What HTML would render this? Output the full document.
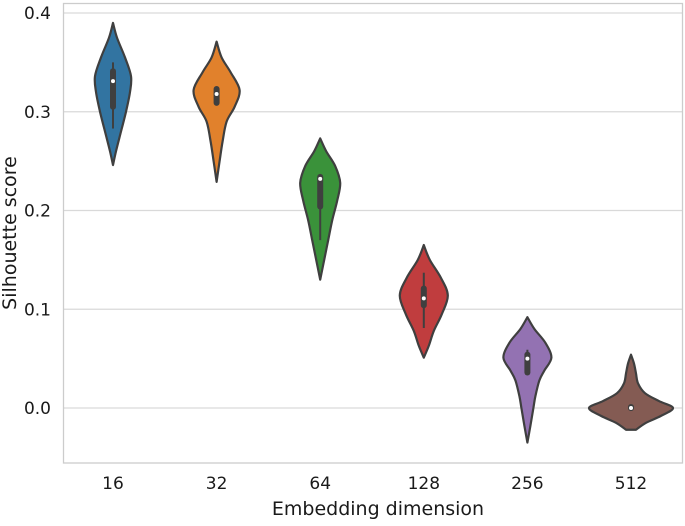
<!DOCTYPE html>
<html><head><meta charset="utf-8"><style>
body{margin:0;background:#fff;}
svg text{font-family:"DejaVu Sans","Liberation Sans",sans-serif;fill:#1a1a1a;}
</style></head><body>
<svg id="chart" width="685" height="521" xmlns="http://www.w3.org/2000/svg">
<g id="grid"></g>
<g id="violins"></g>
<rect x="63.5" y="3.5" width="619" height="459.5" fill="none" stroke="#cccccc" stroke-width="1.3"/>
<g id="yticks"></g>
<g id="xticks"></g>
<text transform="translate(16,233) rotate(-90)" text-anchor="middle" font-size="19">Silhouette score</text>
<text x="378" y="515" text-anchor="middle" font-size="19">Embedding dimension</text>
</svg>
<script>
const categories=["16","32","64","128","256","512"];
const yTicks=[0.0,0.1,0.2,0.3,0.4];
const yTickLabels=["0.0","0.1","0.2","0.3","0.4"];
const colors=["#3274a1","#e1812c","#3a923a","#c03d3e","#9372b2","#845b53"];
// density profiles: [value, relative density]
const dens16=[[0.390,0],[0.375,4],[0.355,12],[0.336,18],[0.32,17],[0.30,13],[0.28,8],[0.26,3],[0.246,0]];
const dens32=[[0.371,0],[0.355,5],[0.34,14],[0.322,23],[0.305,18],[0.29,10],[0.27,6],[0.25,3],[0.229,0]];
const dens64=[[0.273,0],[0.26,6],[0.245,15],[0.228,20],[0.21,17],[0.19,12],[0.17,8],[0.15,4],[0.130,0]];
const dens128=[[0.165,0],[0.15,6],[0.132,17],[0.114,24],[0.095,18],[0.078,10],[0.063,5],[0.051,0]];
const dens256=[[0.092,0],[0.08,7],[0.066,18],[0.051,24],[0.038,17],[0.028,12],[0.012,8],[0.0,6],[-0.018,3],[-0.035,0]];
const dens512=[[0.054,0],[0.045,3],[0.035,5],[0.025,7],[0.015,14],[0.007,28],[0.0,42],[-0.008,30],[-0.015,15],[-0.022,5]];
const densities=[dens16,dens32,dens64,dens128,dens256,dens512];
const whiskLo=[0.283,0.309,0.170,0.081,0.035,0.0];
const whiskHi=[0.350,0.323,0.233,0.137,0.059,0.001];
const q1=[0.305,0.309,0.204,0.104,0.036,0.0];
const q3=[0.341,0.323,0.234,0.121,0.054,0.001];
const medians=[0.331,0.318,0.232,0.111,0.050,0.0];

const NS="http://www.w3.org/2000/svg";
const y=v=>408-v*987.5;
const x=i=>113+i*103.6;
function mk(tag,attrs,parent){const e=document.createElementNS(NS,tag);for(const k in attrs)e.setAttribute(k,attrs[k]);parent.appendChild(e);return e;}
function spline(pts){let d="M"+pts[0][0]+","+pts[0][1];
 for(let i=0;i<pts.length-1;i++){const p0=pts[Math.max(i-1,0)],p1=pts[i],p2=pts[i+1],p3=pts[Math.min(i+2,pts.length-1)];
  const c1=[p1[0]+(p2[0]-p0[0])/6,p1[1]+(p2[1]-p0[1])/6],c2=[p2[0]-(p3[0]-p1[0])/6,p2[1]-(p3[1]-p1[1])/6];
  d+=" C"+c1[0]+","+c1[1]+" "+c2[0]+","+c2[1]+" "+p2[0]+","+p2[1];}
 return d;}
const grid=document.getElementById('grid'),yt=document.getElementById('yticks'),xt=document.getElementById('xticks'),vg=document.getElementById('violins');
yTicks.forEach((t,i)=>{
 const l=mk('line',{x1:63,x2:683,y1:y(t),y2:y(t),stroke:'#d9d9d9','stroke-width':1.3},grid);
 
 
 const tx=mk('text',{x:51,y:y(t)+6,'text-anchor':'end','font-size':17},yt);
 tx.textContent=yTickLabels[i];
 
 
});
categories.forEach((c,i)=>{
 const tx=mk('text',{x:x(i),y:489,'text-anchor':'middle','font-size':17},xt);
 tx.textContent=c;
 
 
 const g=mk('g',{},vg);
 
 
 const dd=densities[i],cx=x(i);
 const right=dd.map(p=>[cx+p[1],y(p[0])]);
 const left=dd.slice().reverse().map(p=>[cx-p[1],y(p[0])]);
 let d=spline(right)+" L"+left[0][0]+","+left[0][1]+spline(left).replace(/^M[^C]*/,"")+" Z";
 const p=mk('path',{d:d,fill:colors[i],stroke:'#3f3f3f','stroke-width':2.2,'stroke-linejoin':'round'},g);
 
 
 const w=mk('line',{x1:cx,x2:cx,y1:y(whiskHi[i]),y2:y(whiskLo[i]),stroke:'#3f3f3f','stroke-width':2},g);
 
 
 const b=mk('line',{x1:cx,x2:cx,y1:y(q3[i]),y2:y(q1[i]),stroke:'#3f3f3f','stroke-width':6,'stroke-linecap':'round'},g);
 
 
 const m=mk('circle',{cx:cx,cy:y(medians[i]),r:2.5,fill:'#fff',stroke:'#3f3f3f','stroke-width':1},g);
 
 
});
</script>
</body></html>
